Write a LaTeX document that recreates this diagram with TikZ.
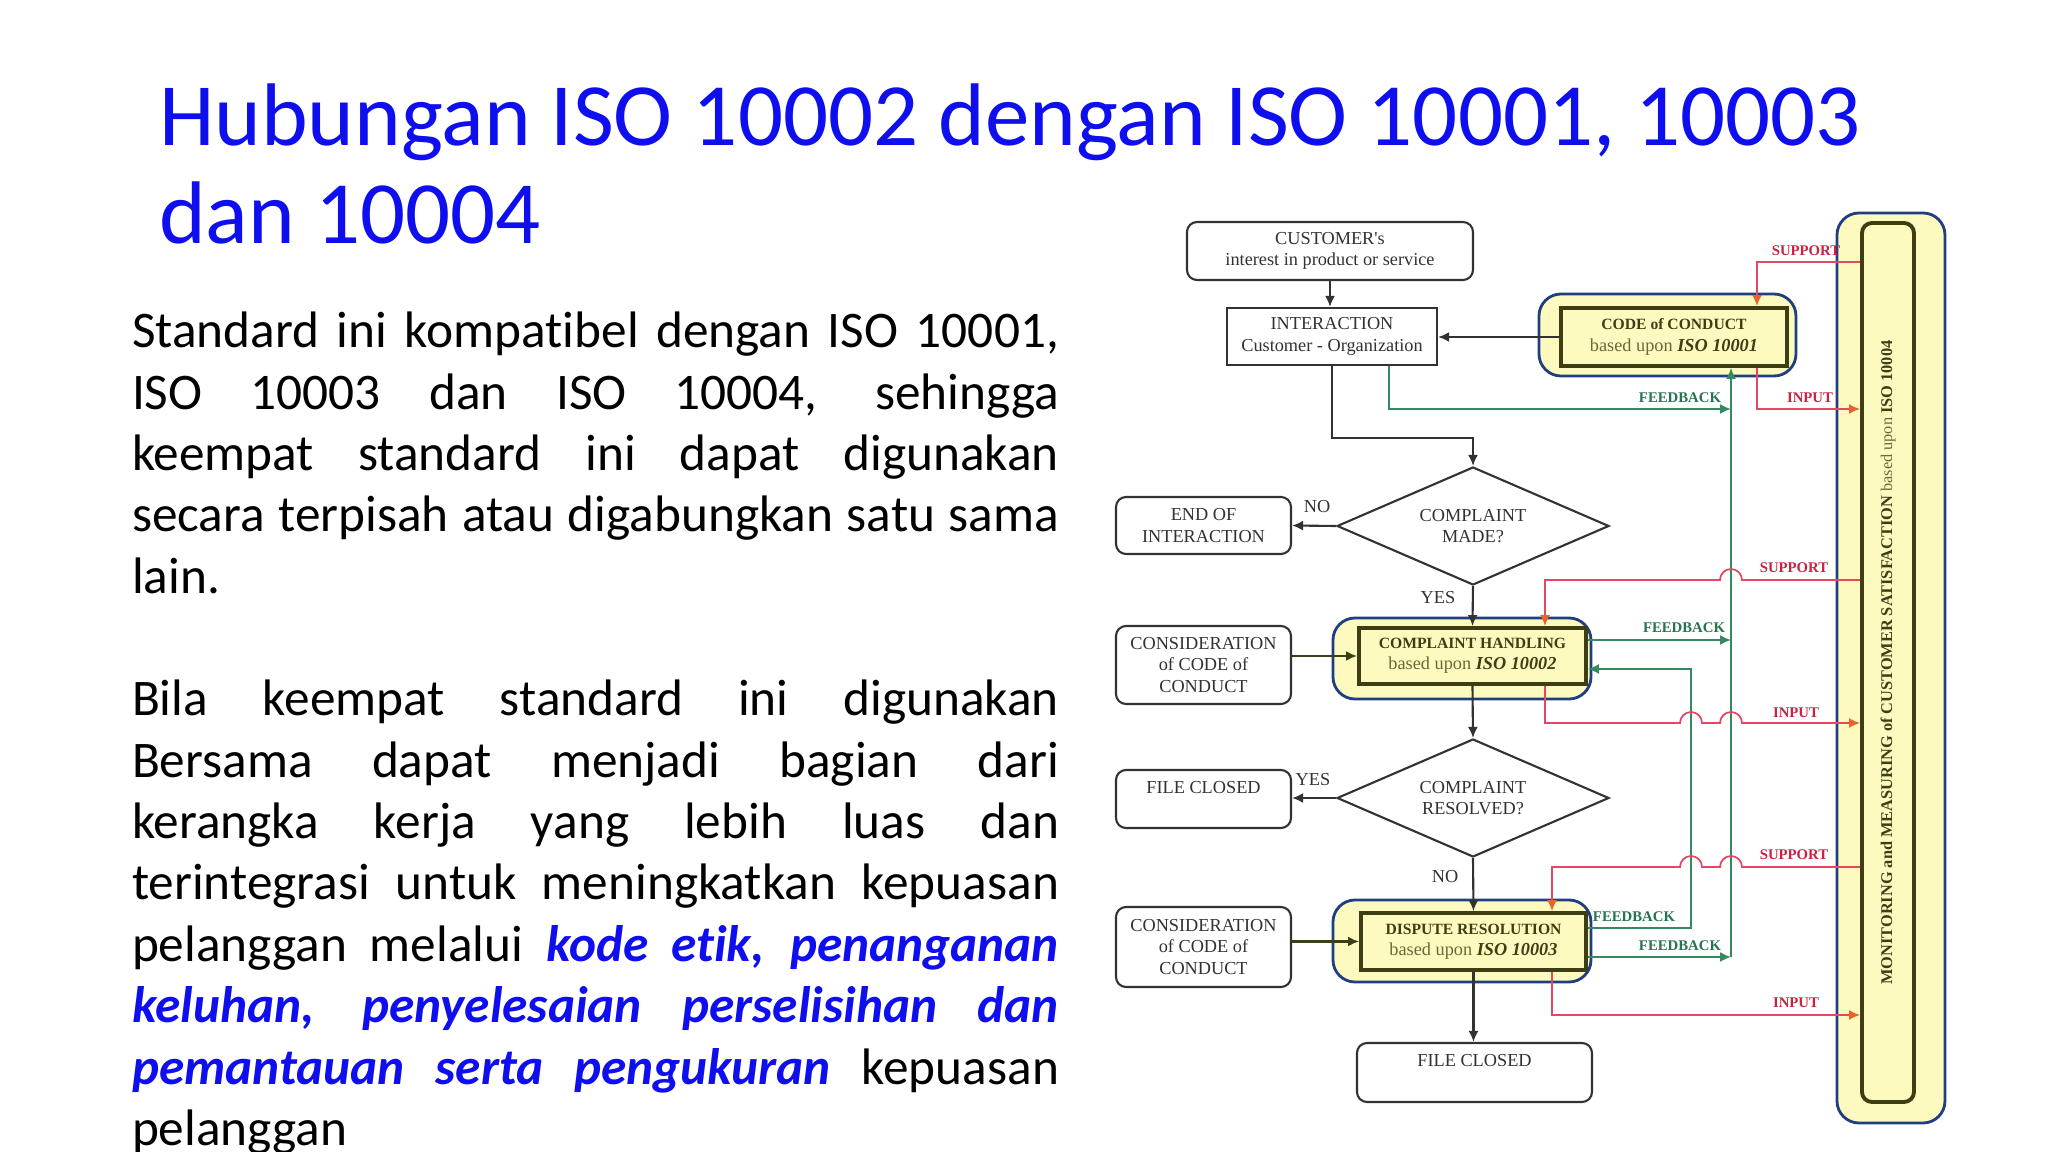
\documentclass[tikz,border=0pt]{standalone}
\usepackage{fontspec}
\usepackage{graphicx}
\setmainfont{Carlito}[Ligatures={TeX,NoCommon}]
\newfontfamily\diagfont{Liberation Serif}
\usetikzlibrary{shapes.geometric,arrows.meta}
\hyphenpenalty=10000

\definecolor{titleblue}{RGB}{14,14,238}
\definecolor{boxyellow}{RGB}{253,250,192}
\definecolor{edgeblue}{RGB}{32,62,130}
\definecolor{darkolive}{RGB}{62,62,20}
\definecolor{paleolive}{RGB}{105,105,55}
\definecolor{lineblack}{RGB}{50,50,50}
\definecolor{suppred}{RGB}{226,72,98}
\definecolor{tiporange}{RGB}{232,100,45}
\definecolor{fbgreen}{RGB}{52,138,96}
\definecolor{labred}{RGB}{200,36,66}
\definecolor{labgreen}{RGB}{40,116,78}

\tikzset{every path/.style={line width=0.6pt}}
\tikzset{
  dtext/.style={font=\diagfont\fontsize{5.2}{6.1}\selectfont, text=lineblack, align=center, inner sep=0pt},
  roundbox/.style={dtext, draw=lineblack, rounded corners=1mm},
  plainbox/.style={dtext, draw=lineblack},
  closedbox/.style={roundbox, text height=3.6pt, text depth=7pt},
  isoframe/.style={draw=edgeblue, fill=boxyellow, rounded corners=2.2mm, line width=0.8pt},
  isobox/.style={dtext, draw=darkolive, fill=boxyellow, line width=1.1pt, text=darkolive},
  decision/.style={dtext, diamond, aspect=2.3, draw=lineblack},
  arr/.style={draw=lineblack, -{Latex[length=1.1mm,width=1mm]}},
  olarr/.style={draw=darkolive, -{Latex[length=1.1mm,width=1mm]}},
  fbline/.style={draw=fbgreen, line width=0.5pt, -{Latex[length=1.1mm,width=1mm]}},
  supline/.style={draw=suppred, line width=0.5pt, {Latex[length=1.1mm,width=1mm,color=tiporange]}-},
  inpline/.style={draw=suppred, line width=0.5pt, -{Latex[length=1.1mm,width=1mm,color=tiporange]}},
  hop/.style={insert path={-- ([xshift=-1.1mm]#1) arc[start angle=180,end angle=0,radius=1.1mm]}},
  redlbl/.style={font=\diagfont\bfseries\fontsize{4.2}{5}\selectfont, text=labred, inner sep=0pt},
  grnlbl/.style={font=\diagfont\bfseries\fontsize{4.2}{5}\selectfont, text=labgreen, inner sep=0pt},
  bodytext/.style={anchor=north west, inner sep=0pt, text width=9.27cm, align=justify,
    font=\fontsize{14.6}{17.47}\selectfont}
}
\newcommand{\blueit}[1]{\textcolor{titleblue}{\textbf{\textit{#1}}}}
\newcommand{\isohead}[1]{{\fontsize{4.45}{6.1}\selectfont\textbf{#1}}}
\newcommand{\basedon}[1]{{\color{paleolive}based upon} \textbf{\textit{#1}}}

\begin{document}
\begin{tikzpicture}
\path[use as bounding box, fill=white] (0,0) rectangle (20.48,-11.52);

\node[anchor=base west, inner sep=0pt, text=titleblue, font=\fontsize{25.3}{28}\selectfont] (title1) at (1.58,-1.46) {Hubungan ISO 10002 dengan ISO 10001, 10003};
\node[anchor=base west, inner sep=0pt, text=titleblue, font=\fontsize{25.3}{28}\selectfont] (title2) at (1.58,-2.44) {dan 10004};

\node[bodytext] (para1) at (1.31,-3.11) {Standard ini kompatibel dengan ISO 10001,\linebreak
ISO 10003 dan ISO 10004, sehingga\linebreak
keempat standard ini dapat digunakan\linebreak
secara terpisah atau digabungkan satu sama\linebreak
lain.};
\node[bodytext] (para2) at (1.31,-6.79) {Bila keempat standard ini digunakan\linebreak
Bersama dapat menjadi bagian dari\linebreak
kerangka kerja yang lebih luas dan\linebreak
terintegrasi untuk meningkatkan kepuasan\linebreak
pelanggan melalui \blueit{kode etik, penanganan\linebreak
keluhan, penyelesaian perselisihan dan\linebreak
pemantauan serta pengukuran} kepuasan\linebreak
pelanggan};

\node[isoframe, minimum width=1.08cm, minimum height=9.10cm] (monframe) at (18.91,-6.68) {};
\node[isobox, rounded corners=1mm, minimum width=0.52cm, minimum height=8.79cm, font=\diagfont\fontsize{4.65}{5.5}\selectfont] (mon) at (18.88,-6.625)
  {\rotatebox{90}{\textbf{MONITORING and MEASURING of CUSTOMER SATISFACTION} {\color{paleolive}based upon} \textbf{ISO 10004}}};

\node[isoframe, minimum width=2.57cm, minimum height=0.82cm] (cocframe) at (16.675,-3.35) {};
\node[isobox, minimum width=2.26cm, minimum height=0.58cm] (coc) at (16.74,-3.37) {\isohead{CODE of CONDUCT}\\\basedon{ISO 10001}};
\node[isoframe, minimum width=2.58cm, minimum height=0.81cm] (chframe) at (14.62,-6.585) {};
\node[isobox, minimum width=2.27cm, minimum height=0.56cm] (ch) at (14.725,-6.56) {\isohead{COMPLAINT HANDLING}\\\basedon{ISO 10002}};
\node[isoframe, minimum width=2.58cm, minimum height=0.82cm] (drframe) at (14.62,-9.41) {};
\node[isobox, minimum width=2.25cm, minimum height=0.57cm] (dr) at (14.735,-9.415) {\isohead{DISPUTE RESOLUTION}\\\basedon{ISO 10003}};

\node[roundbox, minimum width=2.86cm, minimum height=0.58cm] (cust) at (13.30,-2.51) {CUSTOMER's\\interest in product or service};
\node[plainbox, minimum width=2.10cm, minimum height=0.57cm] (inter) at (13.32,-3.365) {INTERACTION\\Customer - Organization};
\node[decision, minimum width=2.72cm, minimum height=1.18cm] (made) at (14.73,-5.26) {COMPLAINT\\MADE?};
\node[roundbox, minimum width=1.75cm, minimum height=0.57cm] (endint) at (12.035,-5.255) {END OF\\INTERACTION};
\node[roundbox, minimum width=1.75cm, minimum height=0.78cm] (cons1) at (12.035,-6.65) {CONSIDERATION\\of CODE of\\CONDUCT};
\node[decision, minimum width=2.72cm, minimum height=1.18cm] (resolved) at (14.73,-7.98) {COMPLAINT\\RESOLVED?};
\node[closedbox, minimum width=1.75cm, minimum height=0.58cm] (closed1) at (12.035,-7.99) {FILE CLOSED};
\node[roundbox, minimum width=1.75cm, minimum height=0.80cm] (cons2) at (12.035,-9.47) {CONSIDERATION\\of CODE of\\CONDUCT};
\node[closedbox, minimum width=2.35cm, minimum height=0.59cm] (closed2) at (14.745,-10.725) {FILE CLOSED};

\draw[arr] (cust.south) -- (cust.south |- inter.north);
\draw[arr] (coc.west) -- (coc.west -| inter.east);
\draw[arr] (inter.south) -- ++(0,-0.72) -| (made.north);
\draw[arr] (made.west) -- (endint.east);
\draw[arr] (made.south) -- (ch.north);
\draw[olarr] (ch.west -| cons1.east) -- (ch.west);
\draw[arr] (ch.south) -- (resolved.north);
\draw[arr] (resolved.west) -- (resolved.west -| closed1.east);
\draw[arr] (resolved.south) -- (dr.north);
\draw[olarr] (dr.west -| cons2.east) -- (dr.west);
\draw[arr] (dr.south) -- (dr.south |- closed2.north);

\node[dtext] (no1) at (13.17,-5.07) {NO};
\node[dtext] (yes1) at (14.38,-5.98) {YES};
\node[dtext] (yes2) at (13.13,-7.80) {YES};
\node[dtext] (no2) at (14.45,-8.77) {NO};

\coordinate (fbstart) at (13.89,-4.09);
\coordinate (busbot) at (17.31,-9.57);
\coordinate (cbus) at (16.91,-8.00);
\draw[fbline] (fbstart |- inter.south) -- (fbstart) -- (fbstart -| busbot);
\draw[fbline] (busbot) -- (busbot |- coc.south);
\draw[fbline] ([yshift=1.6mm]ch.east) -- ([yshift=1.6mm]ch.east -| busbot);
\draw[fbline] ([yshift=1.35mm]dr.east) -- ([yshift=1.35mm]dr.east -| cbus) -- ([yshift=-1.3mm]ch.east -| cbus) -- ([yshift=-1.3mm]ch.east);
\draw[fbline] ([yshift=-1.55mm]dr.east) -- ([yshift=-1.55mm]dr.east -| busbot);

\coordinate (sup1) at (17.57,-2.62);
\coordinate (inp1) at (17.57,-4.09);
\coordinate (sup2) at (15.45,-5.80);
\coordinate (inp2) at (15.45,-7.23);
\coordinate (sup3) at (15.52,-8.67);
\coordinate (inp3) at (15.52,-10.15);
\draw[inpline] (sup1 -| mon.west) -- (sup1) -- (sup1 |- coc.north);
\draw[inpline] (inp1 |- coc.south) -- (inp1) -- (inp1 -| mon.west);
\draw[supline] (sup2 |- ch.north) -- (sup2) [hop={busbot |- sup2}] -- (sup2 -| mon.west);
\draw[inpline] (inp2 |- ch.south) -- (inp2) [hop={cbus |- inp2}] [hop={busbot |- inp2}] -- (inp2 -| mon.west);
\draw[supline] (sup3 |- dr.north) -- (sup3) [hop={cbus |- sup3}] [hop={busbot |- sup3}] -- (sup3 -| mon.west);
\draw[inpline] (inp3 |- dr.south) -- (inp3) -- (inp3 -| mon.west);

\node[redlbl] (suplbl1) at (18.06,-2.51) {SUPPORT};
\node[grnlbl] (fblbl1) at (16.80,-3.98) {FEEDBACK};
\node[redlbl] (inplbl1) at (18.10,-3.98) {INPUT};
\node[redlbl] (suplbl2) at (17.94,-5.68) {SUPPORT};
\node[grnlbl] (fblbl2) at (16.84,-6.28) {FEEDBACK};
\node[redlbl] (inplbl2) at (17.96,-7.13) {INPUT};
\node[redlbl] (suplbl3) at (17.94,-8.55) {SUPPORT};
\node[grnlbl] (fblbl3) at (16.34,-9.17) {FEEDBACK};
\node[grnlbl] (fblbl4) at (16.80,-9.46) {FEEDBACK};
\node[redlbl] (inplbl3) at (17.96,-10.03) {INPUT};
\end{tikzpicture}
\end{document}
